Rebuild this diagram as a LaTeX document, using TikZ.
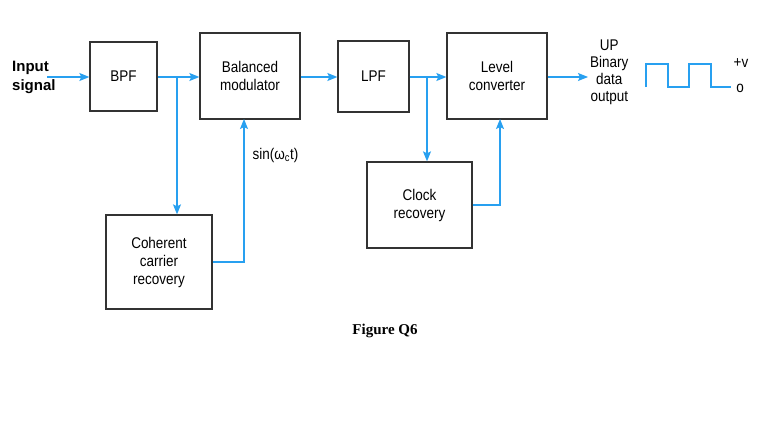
\documentclass[tikz,border=0pt]{standalone}
\usepackage{fontspec}
\setmainfont{Liberation Sans}[FakeStretch=0.87]
\newfontfamily\inpf{Liberation Sans}
\newfontfamily\serifx{Liberation Serif}
\usetikzlibrary{arrows.meta}
\definecolor{lb}{RGB}{40,160,240}
\begin{document}
\begin{tikzpicture}[x=1pt,y=-1pt,
  blk/.style={draw=black!80,line width=1.3pt,inner sep=0pt,align=center,font=\fontsize{15.5}{18}\selectfont},
  ln/.style={draw=lb,line width=1.2pt},
  ar/.style={ln,-{Stealth[length=10pt,width=8pt,inset=2pt]}},
  lab/.style={align=center,font=\fontsize{15.5}{17}\selectfont}]
\useasboundingbox[fill=white] (0,0) rectangle (771,423);
\node[blk,minimum width=67,minimum height=69] (bpf) at (123.5,76.5) {BPF};
\node[blk,minimum width=100,minimum height=86] (bal) at (250,76) {Balanced\\modulator};
\node[blk,minimum width=71,minimum height=71] (lpf) at (373.5,76.5) {LPF};
\node[blk,minimum width=100,minimum height=86] (lev) at (497,76) {Level\\converter};
\node[blk,minimum width=106,minimum height=94] (coh) at (159,262) {Coherent\\carrier\\recovery};
\node[blk,minimum width=105,minimum height=86] (clk) at (419.5,205) {Clock\\recovery};
\node[font=\inpf\bfseries\fontsize{15}{19}\selectfont,align=left,anchor=west,inner sep=0pt] (in) at (12,77) {Input\\signal};
\node[lab,anchor=west,inner sep=2pt] (out) at (588,72) {UP\\Binary\\data\\output};
\node[lab,anchor=west] (sin) at (249,155) {sin(ω\textsubscript{c}t)};
\node[lab] (pv) at (741,63) {+v};
\node[lab] (zero) at (740,88) {o};
\node[font=\serifx\bfseries\fontsize{15}{17}\selectfont] (fig) at (385,331) {Figure Q6};
\coordinate (t1) at (177,77);
\coordinate (t2) at (427,77);
\draw[ar] (47,77) -- (bpf.west|-t1);
\draw[ar] (bpf.east|-t1) -- (bal.west|-t1);
\draw[ar] (t1) -- (t1|-coh.north);
\draw[ar] (coh.east) -| (244,119);
\draw[ar] (bal.east|-t1) -- (lpf.west|-t1);
\draw[ar] (lpf.east|-t2) -- (lev.west|-t2);
\draw[ar] (t2) -- (t2|-clk.north);
\draw[ar] (clk.east) -| (500,119);
\draw[ar] (lev.east|-t2) -- (out.west|-t2);
\draw[ln] (646,87) -- (646,64) -- (668,64) -- (668,87) -- (689,87) -- (689,64) -- (711,64) -- (711,87) -- (731,87);
\end{tikzpicture}
\end{document}
